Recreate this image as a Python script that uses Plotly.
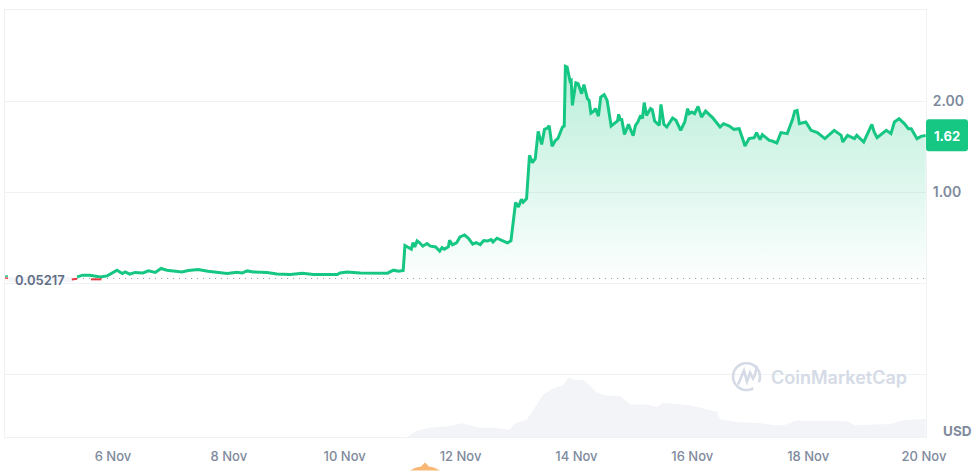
import math
import plotly.graph_objs as go

W, H = 977, 471
# plot area in the page, paper coordinates are relative to it
LEFT, RIGHT, TOP, BOTTOM = 5, 926, 9.5, 437.5

# price line: day of November, price in USD
days = [5.38, 5.48, 5.60, 5.78, 5.90, 5.98, 6.07, 6.16, 6.21, 6.29, 6.38, 6.52, 6.61, 6.73, 6.83, 6.93,
        7.07, 7.19, 7.30, 7.47, 7.64, 7.85, 7.97, 8.14, 8.23, 8.32, 8.42, 8.66, 8.83, 9.06, 9.27, 9.46,
        9.63, 9.87, 9.92, 10.04, 10.27, 10.49, 10.74, 10.84, 10.93, 11.01,
        11.04, 11.10, 11.15, 11.18, 11.21, 11.25, 11.29, 11.35, 11.42, 11.48, 11.57, 11.64, 11.68, 11.72,
        11.79, 11.81, 11.86, 11.93, 11.99, 12.07, 12.14, 12.21, 12.27, 12.34, 12.40, 12.47, 12.53, 12.56,
        12.63, 12.72, 12.81, 12.87, 12.95, 13.00, 13.05, 13.08, 13.14, 13.19, 13.24, 13.29, 13.34, 13.40,
        13.45, 13.50, 13.53, 13.58, 13.64, 13.68, 13.76, 13.79, 13.81, 13.84, 13.89, 13.91, 13.93, 13.99,
        14.03, 14.09, 14.13, 14.19, 14.22, 14.25, 14.30, 14.33, 14.38, 14.42, 14.48, 14.53, 14.60, 14.71,
        14.73, 14.76, 14.78, 14.83, 14.90, 14.94, 14.98, 15.02, 15.06, 15.11, 15.14, 15.17, 15.21, 15.28,
        15.31, 15.35, 15.43, 15.46, 15.51, 15.56, 15.66, 15.72, 15.80, 15.87, 15.92, 15.95, 15.99, 16.04,
        16.10, 16.16, 16.23, 16.35, 16.48, 16.54, 16.64, 16.72, 16.81, 16.87, 16.91, 16.98, 17.07, 17.11,
        17.17, 17.21, 17.33, 17.38, 17.46, 17.53, 17.64, 17.73, 17.77, 17.81, 17.85, 17.96, 18.05, 18.16,
        18.29, 18.45, 18.57, 18.60, 18.68, 18.80, 18.84, 18.96, 19.03, 19.10, 19.14, 19.19, 19.35, 19.43,
        19.49, 19.57, 19.66, 19.73, 19.78, 19.88, 19.95, 20.03]
prices = [0.069, 0.088, 0.088, 0.069, 0.080, 0.113, 0.143, 0.107, 0.124, 0.099, 0.118, 0.113, 0.135, 0.118, 0.162, 0.143,
          0.132, 0.124, 0.140, 0.151, 0.132, 0.113, 0.107, 0.121, 0.113, 0.135, 0.124, 0.118, 0.102, 0.096, 0.110, 0.096,
          0.099, 0.096, 0.113, 0.124, 0.113, 0.110, 0.110, 0.143, 0.132, 0.140,
          0.414, 0.392, 0.374, 0.447, 0.399, 0.465, 0.447, 0.407, 0.436, 0.407, 0.399, 0.352, 0.392, 0.374,
          0.399, 0.473, 0.421, 0.443, 0.509, 0.531, 0.491, 0.429, 0.447, 0.425, 0.469, 0.465, 0.480, 0.454,
          0.495, 0.469, 0.443, 0.465, 0.887, 0.838, 0.923, 0.890, 0.931, 1.407, 1.326, 1.370, 1.670, 1.527,
          1.692, 1.707, 1.733, 1.505, 1.571, 1.590, 1.718, 1.729, 2.385, 2.377, 2.223, 2.231, 1.956, 2.205,
          2.195, 2.085, 2.184, 2.030, 2.011, 1.871, 1.893, 1.920, 1.838, 2.047, 2.074, 2.011, 1.729, 1.784,
          1.857, 1.791, 1.810, 1.637, 1.747, 1.681, 1.623, 1.736, 1.773, 1.846, 1.810, 1.986, 1.846, 1.920,
          1.909, 1.784, 1.736, 1.967, 1.747, 1.718, 1.816, 1.791, 1.681, 1.773, 1.920, 1.865, 1.882, 1.865,
          1.945, 1.827, 1.893, 1.821, 1.718, 1.755, 1.729, 1.692, 1.700, 1.590, 1.509, 1.590, 1.601, 1.656,
          1.579, 1.634, 1.571, 1.564, 1.542, 1.656, 1.645, 1.799, 1.893, 1.901, 1.755, 1.773, 1.681, 1.656,
          1.590, 1.681, 1.626, 1.553, 1.626, 1.590, 1.626, 1.553, 1.645, 1.747, 1.663, 1.601, 1.681, 1.645,
          1.773, 1.810, 1.755, 1.700, 1.700, 1.590, 1.615, 1.626]

# short stretches below the opening price
below_days = [5.29, 5.38, None, 5.62, 5.80]
below_prices = [0.040, 0.050, None, 0.042, 0.042]

# volume, arbitrary units
vol_days = [11.07, 11.24, 11.47, 11.82, 12.02, 12.33, 12.59, 12.85, 12.94, 13.14, 13.28, 13.43, 13.60, 13.77,
            13.87, 13.97, 14.13, 14.26, 14.35, 14.52, 14.76, 14.93, 15.21, 15.39, 15.50, 15.79, 15.97, 16.20,
            16.43, 16.48, 16.77, 17.09, 17.40, 17.58, 17.78, 18.38, 18.67, 18.81, 19.07, 19.42, 19.65, 20.03]
volumes = [0, 6, 9.3, 11, 13.7, 9.3, 9.3, 7, 13.7, 17, 29.3, 42.7, 48.7, 52,
           60, 57, 57, 50.3, 44.3, 41.7, 41, 32.7, 32.7, 30.3, 34.3, 32.7, 31.7, 28.3,
           25.3, 17.7, 15, 14.3, 12, 11.7, 16.3, 16.3, 15.7, 11.7, 12.3, 13, 16.7, 18]

open_price = 0.05217
last_price = "1.62"
x_ticks = [6, 8, 10, 12, 14, 16, 18, 20]
x_labels = ["6 Nov", "8 Nov", "10 Nov", "12 Nov", "14 Nov", "16 Nov", "18 Nov", "20 Nov"]
y_ticks = [-1, 0, 1, 2]
y_labels = ["", "", "1.00", "2.00"]

GREEN = "#16c784"
RED = "#ea3943"
GRID = "#eff2f5"
GREY = "#808a9d"
FONT = "Inter"


def px(x):
    return (x - LEFT) / (RIGHT - LEFT)


def py(y):
    return (BOTTOM - y) / (BOTTOM - TOP)


def path_of(points, close=False):
    d = "M " + " L ".join(f"{px(a):.5f},{py(b):.5f}" for a, b in points)
    return d + " Z" if close else d


def rounded(x0, y0, x1, y1, r):
    return (f"M {px(x0 + r):.5f},{py(y0):.5f} L {px(x1 - r):.5f},{py(y0):.5f} "
            f"Q {px(x1):.5f},{py(y0):.5f} {px(x1):.5f},{py(y0 + r):.5f} "
            f"L {px(x1):.5f},{py(y1 - r):.5f} Q {px(x1):.5f},{py(y1):.5f} {px(x1 - r):.5f},{py(y1):.5f} "
            f"L {px(x0 + r):.5f},{py(y1):.5f} Q {px(x0):.5f},{py(y1):.5f} {px(x0):.5f},{py(y1 - r):.5f} "
            f"L {px(x0):.5f},{py(y0 + r):.5f} Q {px(x0):.5f},{py(y0):.5f} {px(x0 + r):.5f},{py(y0):.5f} Z")


def label(text, x, y, size, color, weight):
    return dict(text=text, xref="paper", yref="paper", x=px(x), y=py(y), xanchor="center", yanchor="middle",
                showarrow=False, font=dict(family=FONT, size=size, color=color, weight=weight))


fig = go.Figure()

# volume band
fig.add_trace(go.Scatter(x=vol_days, y=volumes, yaxis="y2", mode="lines", line=dict(width=0),
                         fill="tozeroy", fillcolor="#f2f4f7", showlegend=False, hoverinfo="skip"))

# opening price, also the floor of the gradient
fig.add_trace(go.Scatter(x=[days[0], days[-1]], y=[open_price, open_price], mode="lines",
                         line=dict(color="#8f98a8", width=1, dash="1px 5px"), showlegend=False, hoverinfo="skip"))
fig.add_trace(go.Scatter(x=days, y=prices, mode="lines", line=dict(color=GREEN, width=3),
                         fill="tonexty",
                         fillgradient=dict(type="vertical", start=open_price, stop=2.385,
                                           colorscale=[[0, "rgba(22,199,132,0.01)"], [1, "rgba(22,199,132,0.30)"]]),
                         showlegend=False))
fig.add_trace(go.Scatter(x=below_days, y=below_prices, mode="lines", line=dict(color=RED, width=2),
                         showlegend=False, hoverinfo="skip"))

# CoinMarketCap ring and squiggle
ring = [(746.5 + 13.5 * math.cos(math.radians(a)), 377 + 13.5 * math.sin(math.radians(a))) for a in range(60, 395, 12)]
squiggle = [(738, 385), (744, 371), (747, 382), (750, 373), (753, 379), (755, 375), (757, 366)]

shapes = [
    dict(type="rect", xref="paper", yref="paper", x0=px(7), x1=px(73), y0=py(277), y1=py(282),
         fillcolor="#f4f5f8", line_width=0, layer="below"),
    dict(type="rect", xref="paper", yref="paper", x0=px(5), x1=px(8), y0=py(275.5), y1=py(277),
         fillcolor=GREEN, line_width=0),
    dict(type="rect", xref="paper", yref="paper", x0=px(5), x1=px(8), y0=py(277.5), y1=py(279),
         fillcolor=RED, line_width=0),
    dict(type="path", xref="paper", yref="paper", path=rounded(926, 119, 968, 151, 3),
         fillcolor=GREEN, line_width=0),
    dict(type="path", xref="paper", yref="paper", path=path_of(ring), line=dict(color="#d5dbe6", width=2.6)),
    dict(type="path", xref="paper", yref="paper", path=path_of(squiggle), line=dict(color="#d5dbe6", width=2.6)),
    dict(type="path", xref="paper", yref="paper", fillcolor="#f9b775", line_width=0,
         path=path_of([(410, 471), (416, 468), (421, 467), (425, 463), (429, 467), (434, 468), (440, 471)], close=True)),
]

annotations = [
    label("0.05217", 40, 280, 13, "#616e85", 600),
    label(last_price, 947, 136, 13, "white", 700),
    label("USD", 957, 431, 13.5, GREY, 700),
    label("CoinMarketCap", 839, 378, 18, "#d5dbe6", 600),
]

fig.update_layout(
    width=W,
    height=H,
    margin=dict(l=LEFT, r=W - RIGHT, t=TOP, b=H - BOTTOM),
    paper_bgcolor="white",
    plot_bgcolor="white",
    showlegend=False,
    shapes=shapes,
    annotations=annotations,
    xaxis=dict(range=[4.136, 20.035], tickmode="array", tickvals=x_ticks, ticktext=x_labels,
               showgrid=False, zeroline=False, showline=True, linecolor=GRID, mirror=True,
               ticks="", ticklabelstandoff=7, tickfont=dict(family=FONT, size=13, color=GREY, weight=500)),
    yaxis=dict(range=[-1.692, 3.005], side="right", tickmode="array", tickvals=y_ticks, ticktext=y_labels,
               showgrid=True, gridcolor=GRID, zeroline=False, showline=True, linecolor=GRID, mirror=True,
               ticks="", ticklabelstandoff=3, tickfont=dict(family=FONT, size=14, color=GREY, weight=600)),
    yaxis2=dict(range=[0, 428], overlaying="y", visible=False),
)

fig.write_html("out.html", config={"displayModeBar": False}, post_script="document.body.style.margin='0';")
